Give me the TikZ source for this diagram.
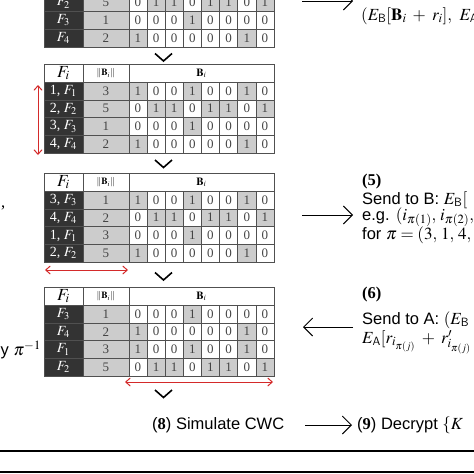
\documentclass[tikz,border=0pt]{standalone}
\usepackage{amsmath}
\usepackage{mathptmx}
\usepackage{fontspec}
\setmainfont{Liberation Serif}
\setsansfont{Liberation Sans}
\usetikzlibrary{arrows.meta}
\definecolor{dk}{HTML}{333333}
\definecolor{lg}{HTML}{CCCCCC}
\definecolor{gridc}{HTML}{505050}
\definecolor{txt}{HTML}{444444}
\definecolor{redc}{HTML}{D42A2A}
\newcommand\mymath[1]{{\fontsize{17}{19}\selectfont$#1$}}
\tikzset{
  cell/.style={draw=gridc, line width=0.6pt, inner sep=0pt, outer sep=0pt, anchor=north west,
    minimum height=17.8pt, font=\fontsize{13}{13}\selectfont, text=txt},
  hdr/.style={cell, fill=white, text=black, minimum height=17.5pt},
  labcell/.style={cell, fill=dk, text=white, minimum width=38.8pt, font=\fontsize{14}{14}\selectfont},
  numcell/.style={cell, fill=lg, minimum width=46pt},
  bitcell/.style={cell, minimum width=18.15pt},
  longarr/.style={line width=0.9pt, -{Straight Barb[length=9pt,width=18pt,line width=0.9pt]}},
  redarr/.style={draw=redc, line width=1pt, {Straight Barb[length=4.5pt,width=8pt]}-{Straight Barb[length=4.5pt,width=8pt]}},
  chev/.style={line width=1.6pt, line join=miter},
  rt/.style={anchor=west, inner sep=0pt, font=\fontsize{16.5}{19}\selectfont\sffamily},
  bt/.style={anchor=west, inner sep=0pt, font=\fontsize{16.5}{19}\selectfont\sffamily},
  rule/.style={line width=2.2pt}
}
% #1 name, #2 top of first data row, #3 header (1/0), #4 rows
\newcommand\drawtable[4]{%
  \pgfmathsetmacro\ty{#2}%
  \ifnum#3=1
    \pgfmathsetmacro\hy{#2-17.5}%
    \node[hdr, minimum width=38.8pt, font=\fontsize{17}{17}\selectfont] (#1-h1) at (44,\hy) {$\boldsymbol{F_i}$};
    \node[hdr, minimum width=46pt, font=\fontsize{9.5}{9.5}\selectfont] (#1-h2) at (82.8,\hy) {$\|\mathbf{B}_i\|$};
    \node[hdr, minimum width=145.2pt, font=\fontsize{11}{11}\selectfont] (#1-h3) at (128.8,\hy) {$\mathbf{B}_i$};
  \fi
  \foreach \lab/\num/\bits [count=\r] in {#4} {
    \pgfmathsetmacro\ry{\ty+(\r-1)*17.8}
    \node[labcell] (#1-\r-a) at (44,\ry) {\lab};
    \node[numcell] (#1-\r-b) at (82.8,\ry) {\num};
    \foreach \b [count=\c] in \bits {
      \pgfmathsetmacro\bx{128.8+(\c-1)*18.15}
      \ifnum\b=1 \def\bc{lg}\else\def\bc{white}\fi
      \node[bitcell, fill=\bc] (#1-\r-c\c) at (\bx,\ry) {\b};
    }
  }
}
\begin{document}
\begin{tikzpicture}[x=1pt,y=-1pt]
\useasboundingbox (0,0) rectangle (474,474);
\clip (0,0) rectangle (474,474);
\fill[white] (0,0) rectangle (474,474);

% tables
\drawtable{ta}{-6.4}{0}{{$F_2$}/5/{0,1,1,0,1,1,0,1}, {$F_3$}/1/{0,0,0,1,0,0,0,0}, {$F_4$}/2/{1,0,0,0,0,0,1,0}}
\drawtable{tb}{82}{1}{{1, $F_1$}/3/{1,0,0,1,0,0,1,0}, {2, $F_2$}/5/{0,1,1,0,1,1,0,1}, {3, $F_3$}/1/{0,0,0,1,0,0,0,0}, {4, $F_4$}/2/{1,0,0,0,0,0,1,0}}
\drawtable{tc}{191}{1}{{3, $F_3$}/1/{1,0,0,1,0,0,1,0}, {4, $F_4$}/2/{0,1,1,0,1,1,0,1}, {1, $F_1$}/3/{0,0,0,1,0,0,0,0}, {2, $F_2$}/5/{1,0,0,0,0,0,1,0}}
\drawtable{td}{305}{1}{{$F_3$}/1/{0,0,0,1,0,0,0,0}, {$F_4$}/2/{1,0,0,0,0,0,1,0}, {$F_1$}/3/{1,0,0,1,0,0,1,0}, {$F_2$}/5/{0,1,1,0,1,1,0,1}}

% chevrons
\foreach \cy [count=\k] in {53.5,160,272.5,390} {
  \draw[chev] (155,\cy) -- (163.5,\cy+7.5) -- (172,\cy);
}

% red arrows
\coordinate (rv1) at (38,85); \coordinate (rv2) at (38,155);
\draw[redarr] (rv1) -- (rv2);
\coordinate (rh1) at (45,270); \coordinate (rh2) at (128,270);
\draw[redarr] (rh1) -- (rh2);
\coordinate (rk1) at (125,382); \coordinate (rk2) at (273,382);
\draw[redarr] (rk1) -- (rk2);

% right-hand texts and arrows
\coordinate (a1s) at (302,1); \coordinate (a1e) at (353,1);
\draw[longarr] (a1s) -- (a1e);
\node[rt] (x1) at (361,16) {\mymath{(E_{\mathsf{B}}[\mathbf{B}_i \;+\; r_i],\;\, E_{\mathsf{A}}}};

\coordinate (a5s) at (302,215); \coordinate (a5e) at (353,215);
\draw[longarr] (a5s) -- (a5e);
\node[rt, font=\fontsize{16.5}{19}\selectfont\rmfamily\bfseries] (s5) at (362,182) {(5)};
\node[rt] (s5a) at (362,200) {Send to B: \mymath{E_{\mathsf{B}}[}};
\node[rt] (s5b) at (362,217) {e.g. \mymath{(i_{\pi(1)},\, i_{\pi(2)},}};
\node[rt] (s5c) at (362,235) {for \mymath{\pi = (3,\, 1,\, 4,\, 2}};

\coordinate (a6s) at (353,327); \coordinate (a6e) at (303,327);
\draw[longarr] (a6s) -- (a6e);
\node[rt, font=\fontsize{16.5}{19}\selectfont\rmfamily\bfseries] (s6) at (362,295) {(6)};
\node[rt] (s6a) at (362,320) {Send to A: \mymath{(E_{\mathsf{B}}}};
\node[rt] (s6b) at (362,342) {\mymath{E_{\mathsf{A}}[r_{i_{\pi(j)}} \;+\; r'_{i_{\pi(j)}}}};

% left texts
\node[anchor=east, inner sep=0pt, font=\fontsize{16.5}{19}\selectfont\sffamily] (by) at (41,350) {by \mymath{\pi^{-1}}};
\node[anchor=west, inner sep=0pt, font=\fontsize{16.5}{19}\selectfont] (cm) at (1,208) {,};

% bottom line
\node[bt] (s8) at (152,425) {(\textbf{\rmfamily 8}) Simulate CWC};
\coordinate (a8s) at (305,425); \coordinate (a8e) at (352,425);
\draw[longarr] (a8s) -- (a8e);
\node[bt] (s9) at (357,425) {(\textbf{\rmfamily 9}) Decrypt \mymath{\{K}};

% rules
\coordinate (l1a) at (0,451); \coordinate (l1b) at (474,451);
\draw[rule] (l1a) -- (l1b);
\coordinate (l2a) at (0,472); \coordinate (l2b) at (474,472);
\draw[rule] (l2a) -- (l2b);
\end{tikzpicture}
\end{document}
